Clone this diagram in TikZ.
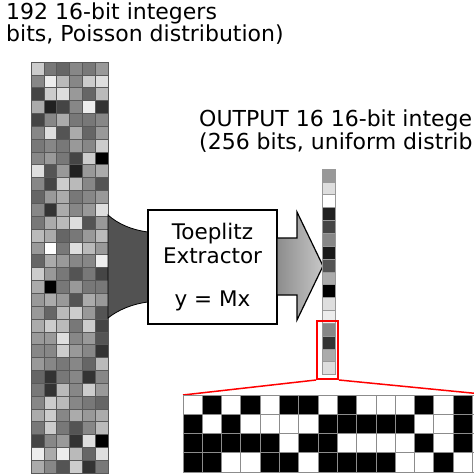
\documentclass[tikz,border=0pt]{standalone}
\usepackage{fontspec}
\setmainfont{DejaVu Sans}
\usetikzlibrary{positioning}

\begin{document}
\begin{tikzpicture}[x=1pt,y=-1pt,
  cell/.style={draw=black!65,line width=0.7pt},
  outcell/.style={draw=black!40,line width=0.6pt},
  bitcell/.style={draw=black!45,line width=0.9pt},
  caption/.style={anchor=base west,inner sep=0pt,font=\fontsize{22}{24}\selectfont},
  extbox/.style={draw,line width=2.5pt,fill=white,minimum width=129pt,minimum height=114pt,
    align=center,inner sep=0pt,font=\fontsize{21.5}{24}\selectfont},
  zoombox/.style={draw=red,line width=2pt}]
\useasboundingbox (0,0) rectangle (474,474);
\clip (0,0) rectangle (474,474);

\node[caption] (intop) at (6,19) {192 16-bit integers};
\node[caption] (inbot) at (6,41.5) {bits, Poisson distribution)};
\node[caption] (outtop) at (199,126.7) {OUTPUT 16 16-bit integers};
\node[caption] (outbot) at (199,149) {(256 bits, uniform distribution)};

% input: 32 rows of 6 integers
\foreach \row [count=\r from 0] in {
  {20,53,60,47,53,40},{47,7,27,47,20,13},{73,20,13,40,60,27},{33,87,73,47,7,80},
  {73,47,33,53,53,47},{47,13,67,33,60,40},{53,47,53,40,47,20},{47,40,53,73,20,100},
  {13,67,40,87,40,33},{47,73,20,27,47,67},{60,40,33,53,47,40},{47,80,33,47,40,13},
  {53,33,27,13,67,40},{27,33,60,53,40,27},{40,0,53,13,27,40},{60,33,40,47,47,7},
  {20,40,53,67,53,73},{33,100,53,40,53,53},{40,33,40,67,33,40},{40,60,27,20,40,67},
  {33,20,27,53,20,73},{40,40,13,47,40,67},{47,47,20,40,47,80},{40,47,53,47,60,27},
  {60,80,53,47,80,47},{53,80,27,47,20,40},{47,20,27,47,53,60},{33,20,47,33,40,33},
  {53,20,53,67,47,27},{73,47,40,80,13,100},{7,33,7,27,60,13},{33,47,67,20,80,53}}
  \foreach \v [count=\c from 0] in \row
    \draw[cell,fill=black!\v] (31+12.85*\c,62+12.85*\r) rectangle ++(12.85,12.85);

\draw[line width=0.8pt,fill=black!68] (108,215) .. controls (118,224) and (132,230) .. (148,232)
  -- (148,302) .. controls (132,304) and (118,310) .. (108,318) -- cycle;

\node[extbox] (extractor) at (212.5,267) {Toeplitz\\Extractor\\[19.5pt]y = Mx};

\draw[line width=1.2pt,left color=black!45,right color=black!22] (277,238) -- (297,238)
  -- (297,212) -- (323,266) -- (297,320) -- (297,295) -- (277,295) -- cycle;

% output: 16 integers
\foreach \v [count=\r from 0] in {40,13,0,87,73,47,90,67,33,100,13,7,47,80,33,13}
  \draw[outcell,fill=black!\v] (322,169+12.85*\r) rectangle ++(12.85,12.85);

\node[zoombox,minimum width=21pt,minimum height=58pt,inner sep=0pt] (zoom) at (327.5,350) {};
\coordinate (bitsnw) at (183,395);
\coordinate (bitsne) at (492,395);
\draw[red,line width=1.5pt] (zoom.south west) -- (bitsnw);
\draw[red,line width=1.5pt] (zoom.south east) -- (bitsne);

% last 4 integers as bits
\foreach \row [count=\r from 0] in {
  {0,1,0,1,0,1,1,0,1,0,0,0,1,0,1,0},{1,0,1,0,0,0,0,1,1,1,1,1,0,0,1,0},
  {1,1,1,1,1,0,1,1,0,0,0,0,1,0,1,0},{1,1,0,0,1,1,0,1,1,1,1,0,0,1,0,0}}
  \foreach \b [count=\c from 0] in \row {
    \pgfmathtruncatemacro\shade{100*\b}
    \draw[bitcell,fill=black!\shade] (183+19.3*\c,395+19.3*\r) rectangle ++(19.3,19.3);
  }
\end{tikzpicture}
\end{document}
